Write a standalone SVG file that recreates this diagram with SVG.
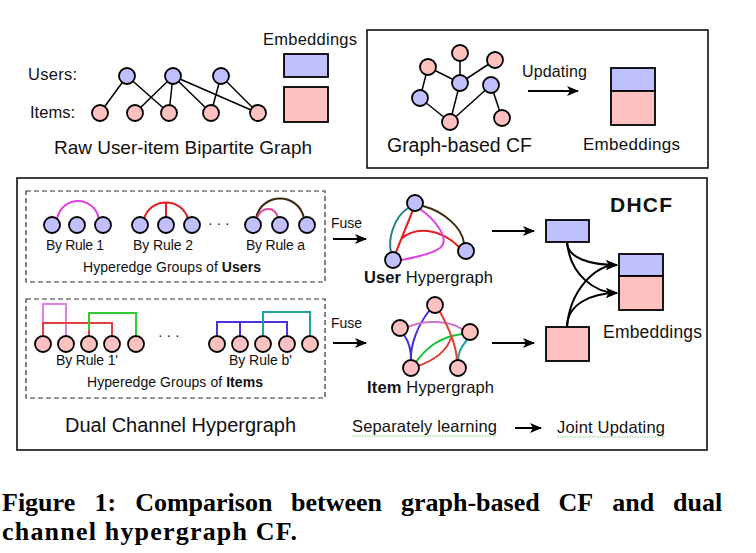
<svg xmlns="http://www.w3.org/2000/svg" width="756" height="553" viewBox="0 0 756 553">
<style>
text{font-family:"Liberation Sans",Arial,sans-serif;fill:#111}
.u{fill:#c0c0ff;stroke:#000;stroke-width:1.8}
.i{fill:#ffc0c0;stroke:#000;stroke-width:1.8}
.e{stroke:#000;stroke-width:1.5;fill:none}
.h{fill:none;stroke-width:2}
.box{fill:none;stroke:#000;stroke-width:1.5}
.dash{fill:none;stroke:#333;stroke-width:1.2;stroke-dasharray:5 3}
.ar{stroke:#000;stroke-width:2;fill:none;marker-end:url(#ah)}
.sq{fill:none;stroke:#7c7;stroke-width:0.9;stroke-dasharray:1.5 1}
.cap{font-family:"Liberation Serif","Times New Roman",serif;font-weight:bold;font-size:26px;fill:#000}
</style>
<defs>
<marker id="ah" viewBox="0 0 12 10" refX="11" refY="5" markerWidth="12" markerHeight="10" markerUnits="userSpaceOnUse" orient="auto">
<path d="M0,0 L12,5 L0,10 L3,5 z" fill="#000"/>
</marker>
</defs>
<rect width="756" height="553" fill="#fff"/>

<g id="raw-bipartite">
<text x="28" y="80" font-size="16.5" textLength="49">Users:</text>
<text x="30" y="118" font-size="16.5" textLength="45">Items:</text>
<g class="e">
<line x1="127" y1="76" x2="100" y2="113"/><line x1="127" y1="76" x2="169" y2="113"/>
<line x1="173" y1="76" x2="135" y2="113"/><line x1="173" y1="76" x2="169" y2="113"/>
<line x1="173" y1="76" x2="211" y2="113"/><line x1="173" y1="76" x2="258" y2="113"/>
<line x1="221" y1="76" x2="211" y2="113"/><line x1="221" y1="76" x2="258" y2="113"/>
</g>
<circle class="u" cx="127" cy="76" r="8"/><circle class="u" cx="173" cy="76" r="8"/><circle class="u" cx="221" cy="76" r="8"/>
<circle class="i" cx="100" cy="113" r="8"/><circle class="i" cx="135" cy="113" r="8"/><circle class="i" cx="169" cy="113" r="8"/><circle class="i" cx="211" cy="113" r="8"/><circle class="i" cx="258" cy="113" r="8"/>
<text x="54" y="154" font-size="19" textLength="258">Raw User-item Bipartite Graph</text>
</g>

<g id="raw-embeddings">
<text x="263" y="45" font-size="16.5" textLength="94">Embeddings</text>
<rect class="u" x="284" y="54" width="44" height="23"/>
<rect class="i" x="284" y="87" width="44" height="35"/>
</g>

<g id="graph-cf">
<rect class="box" x="367" y="30" width="341" height="138"/>
<g class="e">
<line x1="428" y1="67" x2="420" y2="98"/><line x1="428" y1="67" x2="460" y2="83"/>
<line x1="460" y1="53" x2="460" y2="83"/><line x1="495" y1="60" x2="460" y2="83"/>
<line x1="460" y1="83" x2="450" y2="122"/><line x1="420" y1="98" x2="450" y2="122"/>
<line x1="450" y1="122" x2="491" y2="85"/><line x1="491" y1="85" x2="502" y2="118"/>
</g>
<circle class="i" cx="428" cy="67" r="8"/><circle class="i" cx="460" cy="53" r="8"/><circle class="i" cx="495" cy="60" r="8"/>
<circle class="u" cx="460" cy="83" r="8"/><circle class="u" cx="491" cy="85" r="8"/><circle class="u" cx="420" cy="98" r="8"/>
<circle class="i" cx="450" cy="122" r="8"/><circle class="i" cx="502" cy="118" r="8"/>
<text x="387" y="152" font-size="19.5" textLength="145">Graph-based CF</text>
<text x="522" y="77" font-size="16" textLength="65">Updating</text>
<rect class="u" x="611" y="68" width="44" height="23"/>
<rect class="i" x="611" y="91" width="44" height="34"/>
<text x="583" y="150" font-size="17" textLength="97">Embeddings</text>
</g>

<g id="dhcf">
<rect class="box" x="17" y="178" width="690" height="272"/>
<text x="610" y="212" font-size="21" font-weight="bold" textLength="62">DHCF</text>
<text x="65" y="432" font-size="20" textLength="231">Dual Channel Hypergraph</text>
</g>

<g id="user-groups">
<rect class="dash" x="26" y="191" width="299" height="91"/>
<path class="h" stroke="#e040e0" d="M57,219 C62,195 94,195 99,219"/>
<path class="h" stroke="#e02020" d="M144,219 C150,197 182,197 188,219 M166,202 V217"/>
<path class="h" stroke="#3a2a10" d="M256,218 C262,192 298,192 304,218"/>
<path class="h" stroke="#e040a0" d="M257,218 C262,206 275,206 278,218"/>
<circle class="u" cx="52" cy="225" r="8"/><circle class="u" cx="77" cy="225" r="8"/><circle class="u" cx="103" cy="225" r="8"/>
<circle class="u" cx="140" cy="225" r="8"/><circle class="u" cx="166" cy="225" r="8"/><circle class="u" cx="192" cy="225" r="8"/>
<text x="208" y="228" font-size="14">· · ·</text>
<circle class="u" cx="253" cy="225" r="8"/><circle class="u" cx="280" cy="225" r="8"/><circle class="u" cx="307" cy="225" r="8"/>
<text x="46" y="250" font-size="14" textLength="58">By Rule 1</text>
<text x="133" y="250" font-size="14" textLength="60">By Rule 2</text>
<text x="246" y="250" font-size="14" textLength="59">By Rule a</text>
<text x="83" y="272" font-size="14" textLength="178">Hyperedge Groups of <tspan font-weight="bold">Users</tspan></text>
</g>

<g id="item-groups">
<rect class="dash" x="26" y="299" width="299" height="99"/>
<path class="h" stroke="#e080e0" d="M43,336 V304 H66 V336"/>
<path class="h" stroke="#e04040" d="M43,336 V323 H112 V336 M89,323 V336"/>
<path class="h" stroke="#30cc30" d="M89,330 V313 H136 V336"/>
<path class="h" stroke="#4a30e0" d="M217,336 V322 H287 V336 M240,322 V336"/>
<path class="h" stroke="#20a0a0" d="M263,336 V312 H310 V336"/>
<circle class="i" cx="43" cy="344" r="8"/><circle class="i" cx="66" cy="344" r="8"/><circle class="i" cx="89" cy="344" r="8"/><circle class="i" cx="112" cy="344" r="8"/><circle class="i" cx="136" cy="344" r="8"/>
<text x="158" y="340" font-size="14">· · ·</text>
<circle class="i" cx="217" cy="344" r="8"/><circle class="i" cx="240" cy="344" r="8"/><circle class="i" cx="263" cy="344" r="8"/><circle class="i" cx="287" cy="344" r="8"/><circle class="i" cx="310" cy="344" r="8"/>
<text x="56" y="365" font-size="14" textLength="62">By Rule 1'</text>
<text x="229" y="365" font-size="14" textLength="63">By Rule b'</text>
<text x="87" y="387" font-size="14" textLength="176">Hyperedge Groups of <tspan font-weight="bold">Items</tspan></text>
</g>

<g id="user-hypergraph">
<path class="h" stroke="#208080" d="M408,208 C393,218 388,240 391,252"/>
<path class="h" stroke="#3a2a10" d="M423,206 C445,212 462,228 464,243"/>
<path class="h" stroke="#e02020" d="M413,210 L396,252 M401,239 C415,226 440,228 459,247"/>
<path class="h" stroke="#e040e0" d="M420,209 C438,222 450,240 440,248 C430,255 412,258 401,260"/>
<circle class="u" cx="415" cy="203" r="8"/><circle class="u" cx="393" cy="260" r="8"/><circle class="u" cx="466" cy="251" r="8"/>
<text x="364" y="283" font-size="16.5" textLength="129"><tspan font-weight="bold">User</tspan> Hypergraph</text>
</g>

<g id="item-hypergraph">
<path class="h" stroke="#4030e0" d="M429,311 C418,325 410,345 411,360 M404,335 C410,343 411,352 411,360"/>
<path class="h" stroke="#d070d0" d="M408,327 C425,319 450,321 462,329"/>
<path class="h" stroke="#20c040" d="M416,362 C428,345 445,336 462,334"/>
<path class="h" stroke="#e04030" d="M440,312 C450,330 456,345 457,360 M418,366 C435,360 447,350 451,338"/>
<path class="h" stroke="#20a0a0" d="M467,340 C461,347 458,353 458,360"/>
<circle class="i" cx="435" cy="305" r="8"/><circle class="i" cx="400" cy="328" r="8"/><circle class="i" cx="470" cy="332" r="8"/><circle class="i" cx="411" cy="368" r="8"/><circle class="i" cx="458" cy="368" r="8"/>
<text x="367" y="393" font-size="16.5" textLength="127"><tspan font-weight="bold">Item</tspan> Hypergraph</text>
</g>

<g id="dhcf-embeddings">
<rect class="u" x="546" y="220" width="43" height="22"/>
<rect class="i" x="546" y="327" width="43" height="34"/>
<rect class="u" x="619" y="254" width="44" height="22"/>
<rect class="i" x="619" y="276" width="44" height="34"/>
<text x="603" y="338" font-size="17.5" textLength="99">Embeddings</text>
</g>

<g id="legend">
<text x="352" y="432" font-size="16.5" textLength="145">Separately learning</text>
<text x="557" y="433" font-size="16.5" textLength="108">Joint Updating</text>
<path class="sq" d="M352,436 H497 M557,437 H665"/>
</g>

<g id="connectors">
<line class="ar" x1="528" y1="91" x2="578" y2="91"/>
<text x="331" y="228" font-size="14" textLength="31">Fuse</text>
<line class="ar" x1="333" y1="239" x2="366" y2="239"/>
<text x="331" y="328" font-size="14" textLength="31">Fuse</text>
<line class="ar" x1="333" y1="343" x2="366" y2="343"/>
<line class="ar" x1="492" y1="231" x2="534" y2="231"/>
<line class="ar" x1="492" y1="343" x2="534" y2="343"/>
<path class="ar" d="M567,242 C567,258 590,265 617,265"/>
<path class="ar" d="M567,242 C570,275 595,293 617,293"/>
<path class="ar" d="M567,327 C570,290 595,265 617,265"/>
<path class="ar" d="M567,327 C567,305 590,293 617,293"/>
<line class="ar" x1="515" y1="428" x2="541" y2="428"/>
</g>

<g id="caption">
<text class="cap" y="511"><tspan x="2">Figure</tspan><tspan x="94.6">1:</tspan><tspan x="135.2">Comparison</tspan><tspan x="291.1">between</tspan><tspan x="401">graph-based</tspan><tspan x="558.6">CF</tspan><tspan x="612.2">and</tspan><tspan x="673">dual</tspan></text>
<text class="cap" x="2" y="540" textLength="295">channel hypergraph CF.</text>
</g>
</svg>
